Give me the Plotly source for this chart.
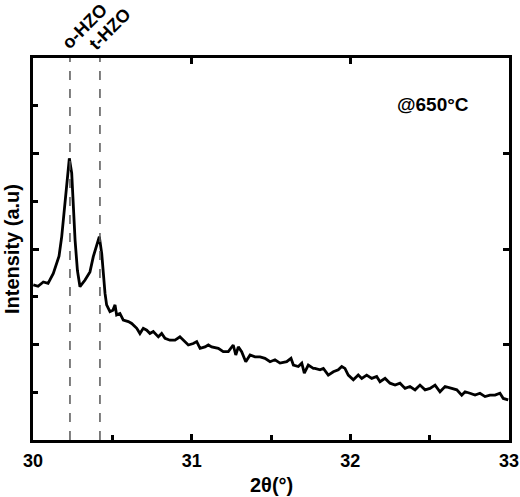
import plotly.graph_objects as go

# 2-theta (degrees) and intensity (arbitrary units)
two_theta = [
    30.002, 30.032, 30.065, 30.095, 30.128, 30.149, 30.164, 30.181, 30.202, 30.217,
    30.229, 30.244, 30.255, 30.265, 30.280, 30.296, 30.328, 30.359, 30.380, 30.400,
    30.418, 30.433, 30.444, 30.454, 30.464, 30.485, 30.504, 30.517, 30.527, 30.548,
    30.569, 30.601, 30.622, 30.654, 30.674, 30.695, 30.717, 30.737, 30.758, 30.790,
    30.811, 30.832, 30.863, 30.895, 30.926, 30.958, 30.979, 31.010, 31.032, 31.053,
    31.084, 31.105, 31.126, 31.168, 31.199, 31.231, 31.262, 31.278, 31.294, 31.315,
    31.341, 31.368, 31.399, 31.431, 31.462, 31.494, 31.525, 31.557, 31.599, 31.626,
    31.641, 31.672, 31.694, 31.710, 31.735, 31.767, 31.777, 31.809, 31.830, 31.861,
    31.893, 31.924, 31.946, 31.966, 31.987, 32.019, 32.050, 32.072, 32.103, 32.135,
    32.166, 32.187, 32.219, 32.250, 32.282, 32.313, 32.345, 32.376, 32.408, 32.439,
    32.471, 32.502, 32.534, 32.565, 32.597, 32.639, 32.671, 32.702, 32.723, 32.754,
    32.786, 32.817, 32.849, 32.880, 32.912, 32.943, 32.964, 32.995,
]
intensity = [
    3.25, 3.22, 3.31, 3.28, 3.49, 3.70, 3.85, 4.26, 4.96, 5.55,
    5.90, 5.59, 4.90, 4.19, 3.55, 3.21, 3.35, 3.52, 3.84, 4.05,
    4.26, 3.91, 3.40, 3.07, 2.83, 2.69, 2.72, 2.83, 2.62, 2.65,
    2.51, 2.48, 2.44, 2.34, 2.23, 2.34, 2.30, 2.23, 2.27, 2.16,
    2.23, 2.13, 2.09, 2.09, 2.16, 2.06, 1.99, 2.02, 2.06, 1.92,
    1.95, 1.99, 1.95, 1.92, 1.85, 1.85, 1.99, 1.78, 1.95, 1.85,
    1.64, 1.78, 1.74, 1.74, 1.71, 1.64, 1.68, 1.61, 1.64, 1.71,
    1.57, 1.54, 1.61, 1.40, 1.57, 1.50, 1.50, 1.47, 1.50, 1.36,
    1.43, 1.47, 1.54, 1.50, 1.36, 1.26, 1.36, 1.29, 1.36, 1.29,
    1.33, 1.22, 1.29, 1.19, 1.15, 1.19, 1.08, 1.12, 1.05, 1.15,
    1.05, 1.08, 1.15, 1.01, 1.12, 1.08, 1.05, 0.94, 1.01, 0.98,
    0.94, 0.98, 0.91, 0.94, 0.94, 0.98, 0.87, 0.84,
]

phase_labels = ["o-HZO", "t-HZO"]
phase_positions = [30.233, 30.422]
temperature_label = "@650°C"
x_title = "2θ(°)"
y_title = "Intensity (a.u)"

FONT = "Liberation Sans, Arial, sans-serif"

fig = go.Figure()
fig.add_trace(go.Scatter(
    x=two_theta, y=intensity, mode="lines",
    line=dict(color="black", width=2.8),
    showlegend=False,
))

for pos in phase_positions:
    fig.add_shape(type="line", x0=pos, x1=pos, xref="x", y0=0, y1=1, yref="paper",
                  line=dict(color="#555555", width=1.5, dash="dash"))

label_shift = [15, 10]
label_y = [1.084, 1.076]
for lab, pos, sh, yy in zip(phase_labels, phase_positions, label_shift, label_y):
    fig.add_annotation(text=lab, x=pos, xref="x", y=yy, yref="paper", xshift=sh,
                       xanchor="center", yanchor="middle", textangle=-45, showarrow=False,
                       font=dict(family=FONT, size=18, color="black", weight="bold"))

fig.add_annotation(text=temperature_label, x=0.84, y=0.877, xref="paper", yref="paper",
                   showarrow=False, xanchor="center", yanchor="middle",
                   font=dict(family=FONT, size=19, color="black", weight="bold"))

# axis titles
fig.add_annotation(text=x_title, x=0.5, y=-0.118, xref="paper", yref="paper",
                   showarrow=False, xanchor="center", yanchor="middle",
                   font=dict(family=FONT, size=20, color="black", weight="bold"))
fig.add_annotation(text=y_title, x=-0.044, y=0.5, xref="paper", yref="paper",
                   showarrow=False, xanchor="center", yanchor="middle", textangle=-90,
                   font=dict(family=FONT, size=20, color="black", weight="bold"))

axis_common = dict(showgrid=False, zeroline=False, ticks="inside", tickcolor="black",
                   tickwidth=2.5, ticklen=6, showline=True, linecolor="black", linewidth=2.5,
                   automargin=False)

fig.update_layout(
    width=520, height=497,
    margin=dict(l=33, r=11, t=58, b=57),
    plot_bgcolor="white", paper_bgcolor="white",
    font=dict(family=FONT, size=18, color="black", weight="bold"),
    xaxis=dict(range=[30, 33], dtick=1, tick0=30, mirror=True, ticklabelstandoff=3,
               minor=dict(dtick=0.5, tick0=30, ticks="inside", ticklen=5, tickcolor="black", tickwidth=2.5),
               tickfont=dict(family=FONT, size=18, color="black", weight="bold"),
               **axis_common),
    yaxis=dict(range=[0, 8], dtick=2, tick0=0, mirror=True, showticklabels=False,
               minor=dict(dtick=1, tick0=0, ticks="inside", ticklen=5, tickcolor="black", tickwidth=2.5),
               **axis_common),
    xaxis2=dict(range=[30, 33], dtick=1, tick0=30, overlaying="x", side="top",
                showticklabels=False, showgrid=False, zeroline=False, ticks="inside",
                tickcolor="black", tickwidth=2.5, ticklen=6, showline=False, automargin=False),
    yaxis2=dict(range=[0, 8], dtick=2, tick0=0, overlaying="y", side="right",
                showticklabels=False, showgrid=False, zeroline=False, ticks="inside",
                tickcolor="black", tickwidth=2.5, ticklen=6, showline=False, automargin=False),
)

# invisible trace to activate the mirrored tick axes
fig.add_trace(go.Scatter(x=[30], y=[0], xaxis="x2", yaxis="y2", mode="markers",
                         marker=dict(opacity=0), showlegend=False, hoverinfo="skip"))

fig.write_html("out.html", config={"displayModeBar": False},
               post_script="document.body.style.margin='0';document.body.style.overflow='hidden';")
